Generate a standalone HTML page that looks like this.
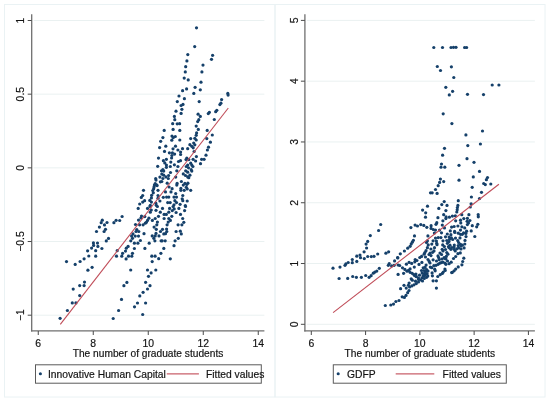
<!DOCTYPE html>
<html><head><meta charset="utf-8"><style>
html,body{margin:0;padding:0;background:#fff;}
body{width:550px;height:402px;overflow:hidden;}
svg{display:block;}
text{font-family:"Liberation Sans",Arial,sans-serif;fill:#141414;stroke:#141414;stroke-width:0.18px;}
.tl{font-size:10.4px;}
.tt{font-size:10.2px;}
.lg{font-size:10.3px;}
</style></head><body>
<svg width="550" height="402" viewBox="0 0 550 402">
<rect x="0" y="0" width="550" height="402" fill="#ffffff"/>
<rect x="4.5" y="4.5" width="270.5" height="392.5" fill="none" stroke="#eaf2f4" stroke-width="1"/>
<rect x="275" y="4.5" width="270" height="392.5" fill="none" stroke="#eaf2f4" stroke-width="1"/>
<line x1="33.70" y1="315.20" x2="264.40" y2="315.20" stroke="#eaf1f1" stroke-width="1"/>
<line x1="33.70" y1="241.52" x2="264.40" y2="241.52" stroke="#eaf1f1" stroke-width="1"/>
<line x1="33.70" y1="167.85" x2="264.40" y2="167.85" stroke="#eaf1f1" stroke-width="1"/>
<line x1="33.70" y1="94.17" x2="264.40" y2="94.17" stroke="#eaf1f1" stroke-width="1"/>
<line x1="33.70" y1="20.50" x2="264.40" y2="20.50" stroke="#eaf1f1" stroke-width="1"/>
<line x1="31.70" y1="14.3" x2="31.70" y2="331.5" stroke="#6f6f6f" stroke-width="1.3"/>
<line x1="31.05" y1="330.9" x2="264.40" y2="330.9" stroke="#6f6f6f" stroke-width="1.3"/>
<line x1="27.70" y1="315.20" x2="31.70" y2="315.20" stroke="#4a4a4a" stroke-width="1"/>
<text x="0" y="0" transform="translate(24.40,315.20) rotate(-90)" text-anchor="middle" class="tl">−1</text>
<line x1="27.70" y1="241.52" x2="31.70" y2="241.52" stroke="#4a4a4a" stroke-width="1"/>
<text x="0" y="0" transform="translate(24.40,241.52) rotate(-90)" text-anchor="middle" class="tl">−0.5</text>
<line x1="27.70" y1="167.85" x2="31.70" y2="167.85" stroke="#4a4a4a" stroke-width="1"/>
<text x="0" y="0" transform="translate(24.40,167.85) rotate(-90)" text-anchor="middle" class="tl">0</text>
<line x1="27.70" y1="94.17" x2="31.70" y2="94.17" stroke="#4a4a4a" stroke-width="1"/>
<text x="0" y="0" transform="translate(24.40,94.17) rotate(-90)" text-anchor="middle" class="tl">0.5</text>
<line x1="27.70" y1="20.50" x2="31.70" y2="20.50" stroke="#4a4a4a" stroke-width="1"/>
<text x="0" y="0" transform="translate(24.40,20.50) rotate(-90)" text-anchor="middle" class="tl">1</text>
<line x1="38.25" y1="331" x2="38.25" y2="335" stroke="#4a4a4a" stroke-width="1"/>
<text x="38.25" y="346.8" text-anchor="middle" class="tl">6</text>
<line x1="93.25" y1="331" x2="93.25" y2="335" stroke="#4a4a4a" stroke-width="1"/>
<text x="93.25" y="346.8" text-anchor="middle" class="tl">8</text>
<line x1="148.25" y1="331" x2="148.25" y2="335" stroke="#4a4a4a" stroke-width="1"/>
<text x="148.25" y="346.8" text-anchor="middle" class="tl">10</text>
<line x1="203.25" y1="331" x2="203.25" y2="335" stroke="#4a4a4a" stroke-width="1"/>
<text x="203.25" y="346.8" text-anchor="middle" class="tl">12</text>
<line x1="258.25" y1="331" x2="258.25" y2="335" stroke="#4a4a4a" stroke-width="1"/>
<text x="258.25" y="346.8" text-anchor="middle" class="tl">14</text>
<text x="148.05" y="356.9" text-anchor="middle" class="tt">The number of graduate students</text>
<g fill="#15406a">
<circle cx="196.5" cy="27.8" r="1.6"/>
<circle cx="194.7" cy="46.6" r="1.6"/>
<circle cx="187.8" cy="54.6" r="1.6"/>
<circle cx="212.6" cy="55.3" r="1.6"/>
<circle cx="211.5" cy="59.3" r="1.6"/>
<circle cx="186.9" cy="60.9" r="1.6"/>
<circle cx="203.0" cy="65.1" r="1.6"/>
<circle cx="185.7" cy="66.7" r="1.6"/>
<circle cx="185.3" cy="71.9" r="1.6"/>
<circle cx="201.9" cy="71.9" r="1.6"/>
<circle cx="184.2" cy="78.1" r="1.6"/>
<circle cx="188.2" cy="79.9" r="1.6"/>
<circle cx="201.0" cy="82.2" r="1.6"/>
<circle cx="195.1" cy="87.3" r="1.6"/>
<circle cx="186.6" cy="88.9" r="1.6"/>
<circle cx="182.6" cy="90.7" r="1.6"/>
<circle cx="200.3" cy="89.8" r="1.6"/>
<circle cx="193.8" cy="93.4" r="1.6"/>
<circle cx="227.8" cy="93.4" r="1.6"/>
<circle cx="228.1" cy="95.1" r="1.6"/>
<circle cx="179.0" cy="96.0" r="1.6"/>
<circle cx="184.4" cy="98.7" r="1.6"/>
<circle cx="221.6" cy="99.6" r="1.6"/>
<circle cx="177.3" cy="101.6" r="1.6"/>
<circle cx="176.0" cy="111.2" r="1.6"/>
<circle cx="174.4" cy="116.4" r="1.6"/>
<circle cx="174.8" cy="119.7" r="1.6"/>
<circle cx="172.7" cy="123.7" r="1.6"/>
<circle cx="179.6" cy="123.7" r="1.6"/>
<circle cx="164.2" cy="130.4" r="1.6"/>
<circle cx="173.1" cy="129.4" r="1.6"/>
<circle cx="179.8" cy="130.4" r="1.6"/>
<circle cx="162.9" cy="137.6" r="1.6"/>
<circle cx="172.0" cy="136.1" r="1.6"/>
<circle cx="175.3" cy="136.5" r="1.6"/>
<circle cx="173.3" cy="137.6" r="1.6"/>
<circle cx="160.7" cy="141.3" r="1.6"/>
<circle cx="171.8" cy="140.2" r="1.6"/>
<circle cx="179.8" cy="140.0" r="1.6"/>
<circle cx="199.2" cy="101.6" r="1.6"/>
<circle cx="220.9" cy="103.2" r="1.6"/>
<circle cx="219.9" cy="104.6" r="1.6"/>
<circle cx="183.0" cy="104.4" r="1.6"/>
<circle cx="181.1" cy="105.5" r="1.6"/>
<circle cx="181.9" cy="109.3" r="1.6"/>
<circle cx="181.1" cy="113.4" r="1.6"/>
<circle cx="216.8" cy="110.3" r="1.6"/>
<circle cx="215.7" cy="111.7" r="1.6"/>
<circle cx="209.4" cy="112.3" r="1.6"/>
<circle cx="208.3" cy="113.6" r="1.6"/>
<circle cx="198.1" cy="114.2" r="1.6"/>
<circle cx="200.3" cy="116.4" r="1.6"/>
<circle cx="198.8" cy="119.7" r="1.6"/>
<circle cx="197.7" cy="121.6" r="1.6"/>
<circle cx="214.3" cy="119.5" r="1.6"/>
<circle cx="196.2" cy="126.1" r="1.6"/>
<circle cx="198.3" cy="129.4" r="1.6"/>
<circle cx="207.2" cy="130.4" r="1.6"/>
<circle cx="196.6" cy="132.9" r="1.6"/>
<circle cx="196.2" cy="135.3" r="1.6"/>
<circle cx="212.3" cy="135.0" r="1.6"/>
<circle cx="190.7" cy="138.6" r="1.6"/>
<circle cx="194.8" cy="138.3" r="1.6"/>
<circle cx="196.2" cy="140.0" r="1.6"/>
<circle cx="206.8" cy="138.6" r="1.6"/>
<circle cx="193.7" cy="143.0" r="1.6"/>
<circle cx="210.4" cy="142.2" r="1.6"/>
<circle cx="159.6" cy="147.6" r="1.6"/>
<circle cx="165.8" cy="146.2" r="1.6"/>
<circle cx="175.5" cy="146.2" r="1.6"/>
<circle cx="173.0" cy="148.8" r="1.6"/>
<circle cx="177.9" cy="150.0" r="1.6"/>
<circle cx="164.5" cy="151.4" r="1.6"/>
<circle cx="169.4" cy="152.8" r="1.6"/>
<circle cx="172.4" cy="152.8" r="1.6"/>
<circle cx="174.6" cy="154.1" r="1.6"/>
<circle cx="171.9" cy="155.5" r="1.6"/>
<circle cx="171.6" cy="158.0" r="1.6"/>
<circle cx="158.5" cy="158.1" r="1.6"/>
<circle cx="166.4" cy="159.3" r="1.6"/>
<circle cx="163.4" cy="160.7" r="1.6"/>
<circle cx="164.8" cy="162.9" r="1.6"/>
<circle cx="170.8" cy="162.1" r="1.6"/>
<circle cx="178.5" cy="161.5" r="1.6"/>
<circle cx="174.4" cy="164.8" r="1.6"/>
<circle cx="157.7" cy="166.3" r="1.6"/>
<circle cx="166.4" cy="167.3" r="1.6"/>
<circle cx="170.3" cy="166.5" r="1.6"/>
<circle cx="177.9" cy="166.5" r="1.6"/>
<circle cx="166.4" cy="165.0" r="1.6"/>
<circle cx="162.9" cy="169.5" r="1.6"/>
<circle cx="161.5" cy="170.8" r="1.6"/>
<circle cx="163.7" cy="171.1" r="1.6"/>
<circle cx="170.5" cy="172.5" r="1.6"/>
<circle cx="176.8" cy="170.8" r="1.6"/>
<circle cx="161.8" cy="174.1" r="1.6"/>
<circle cx="163.7" cy="175.2" r="1.6"/>
<circle cx="168.6" cy="175.5" r="1.6"/>
<circle cx="165.9" cy="176.9" r="1.6"/>
<circle cx="159.9" cy="177.1" r="1.6"/>
<circle cx="155.7" cy="178.5" r="1.6"/>
<circle cx="162.9" cy="178.5" r="1.6"/>
<circle cx="168.3" cy="178.5" r="1.6"/>
<circle cx="175.7" cy="177.1" r="1.6"/>
<circle cx="156.0" cy="180.1" r="1.6"/>
<circle cx="160.4" cy="181.8" r="1.6"/>
<circle cx="161.8" cy="181.5" r="1.6"/>
<circle cx="167.2" cy="183.2" r="1.6"/>
<circle cx="155.2" cy="183.7" r="1.6"/>
<circle cx="154.4" cy="185.1" r="1.6"/>
<circle cx="156.6" cy="184.8" r="1.6"/>
<circle cx="177.1" cy="183.4" r="1.6"/>
<circle cx="176.8" cy="185.1" r="1.6"/>
<circle cx="189.9" cy="144.7" r="1.6"/>
<circle cx="194.8" cy="144.8" r="1.6"/>
<circle cx="191.8" cy="146.3" r="1.6"/>
<circle cx="193.2" cy="147.8" r="1.6"/>
<circle cx="182.5" cy="148.7" r="1.6"/>
<circle cx="187.7" cy="148.7" r="1.6"/>
<circle cx="180.6" cy="152.0" r="1.6"/>
<circle cx="180.6" cy="154.5" r="1.6"/>
<circle cx="194.1" cy="151.5" r="1.6"/>
<circle cx="208.5" cy="147.2" r="1.6"/>
<circle cx="207.4" cy="150.0" r="1.6"/>
<circle cx="206.0" cy="155.2" r="1.6"/>
<circle cx="196.4" cy="156.6" r="1.6"/>
<circle cx="186.8" cy="158.0" r="1.6"/>
<circle cx="186.0" cy="159.6" r="1.6"/>
<circle cx="188.8" cy="159.6" r="1.6"/>
<circle cx="193.1" cy="159.3" r="1.6"/>
<circle cx="195.6" cy="161.0" r="1.6"/>
<circle cx="201.6" cy="159.3" r="1.6"/>
<circle cx="204.1" cy="159.3" r="1.6"/>
<circle cx="180.5" cy="160.7" r="1.6"/>
<circle cx="200.5" cy="163.7" r="1.6"/>
<circle cx="190.7" cy="163.2" r="1.6"/>
<circle cx="187.7" cy="165.1" r="1.6"/>
<circle cx="191.8" cy="165.1" r="1.6"/>
<circle cx="186.3" cy="166.5" r="1.6"/>
<circle cx="188.5" cy="167.8" r="1.6"/>
<circle cx="192.9" cy="166.5" r="1.6"/>
<circle cx="191.2" cy="169.7" r="1.6"/>
<circle cx="185.7" cy="170.8" r="1.6"/>
<circle cx="191.8" cy="171.1" r="1.6"/>
<circle cx="187.7" cy="172.2" r="1.6"/>
<circle cx="183.3" cy="173.9" r="1.6"/>
<circle cx="185.5" cy="175.5" r="1.6"/>
<circle cx="189.9" cy="175.2" r="1.6"/>
<circle cx="187.7" cy="176.9" r="1.6"/>
<circle cx="188.8" cy="177.7" r="1.6"/>
<circle cx="181.4" cy="181.5" r="1.6"/>
<circle cx="184.9" cy="183.4" r="1.6"/>
<circle cx="187.9" cy="183.2" r="1.6"/>
<circle cx="183.3" cy="185.1" r="1.6"/>
<circle cx="186.8" cy="184.5" r="1.6"/>
<circle cx="169.1" cy="187.0" r="1.6"/>
<circle cx="172.1" cy="188.7" r="1.6"/>
<circle cx="180.9" cy="188.4" r="1.6"/>
<circle cx="180.9" cy="190.3" r="1.6"/>
<circle cx="184.2" cy="190.3" r="1.6"/>
<circle cx="186.3" cy="187.3" r="1.6"/>
<circle cx="187.2" cy="188.9" r="1.6"/>
<circle cx="190.7" cy="190.3" r="1.6"/>
<circle cx="165.5" cy="191.9" r="1.6"/>
<circle cx="171.0" cy="191.9" r="1.6"/>
<circle cx="175.7" cy="193.6" r="1.6"/>
<circle cx="182.8" cy="195.5" r="1.6"/>
<circle cx="166.6" cy="197.1" r="1.6"/>
<circle cx="168.8" cy="197.1" r="1.6"/>
<circle cx="174.0" cy="197.1" r="1.6"/>
<circle cx="176.5" cy="197.1" r="1.6"/>
<circle cx="182.2" cy="198.8" r="1.6"/>
<circle cx="182.8" cy="200.7" r="1.6"/>
<circle cx="187.2" cy="201.0" r="1.6"/>
<circle cx="174.9" cy="200.7" r="1.6"/>
<circle cx="167.7" cy="202.6" r="1.6"/>
<circle cx="170.2" cy="202.6" r="1.6"/>
<circle cx="176.5" cy="202.6" r="1.6"/>
<circle cx="174.0" cy="204.8" r="1.6"/>
<circle cx="180.1" cy="204.3" r="1.6"/>
<circle cx="185.3" cy="205.6" r="1.6"/>
<circle cx="157.1" cy="185.6" r="1.6"/>
<circle cx="154.1" cy="186.8" r="1.6"/>
<circle cx="153.7" cy="188.7" r="1.6"/>
<circle cx="143.5" cy="190.3" r="1.6"/>
<circle cx="152.8" cy="190.6" r="1.6"/>
<circle cx="158.0" cy="190.3" r="1.6"/>
<circle cx="153.3" cy="192.8" r="1.6"/>
<circle cx="142.7" cy="195.5" r="1.6"/>
<circle cx="151.6" cy="195.3" r="1.6"/>
<circle cx="158.0" cy="195.5" r="1.6"/>
<circle cx="141.3" cy="197.4" r="1.6"/>
<circle cx="163.3" cy="197.3" r="1.6"/>
<circle cx="151.4" cy="197.9" r="1.6"/>
<circle cx="158.0" cy="198.2" r="1.6"/>
<circle cx="144.6" cy="200.7" r="1.6"/>
<circle cx="142.7" cy="202.1" r="1.6"/>
<circle cx="149.8" cy="200.4" r="1.6"/>
<circle cx="151.4" cy="202.1" r="1.6"/>
<circle cx="159.9" cy="201.0" r="1.6"/>
<circle cx="139.7" cy="204.0" r="1.6"/>
<circle cx="155.8" cy="203.2" r="1.6"/>
<circle cx="150.3" cy="205.3" r="1.6"/>
<circle cx="156.3" cy="205.3" r="1.6"/>
<circle cx="173.1" cy="206.5" r="1.6"/>
<circle cx="174.2" cy="208.9" r="1.6"/>
<circle cx="172.3" cy="210.6" r="1.6"/>
<circle cx="162.5" cy="208.4" r="1.6"/>
<circle cx="169.6" cy="208.4" r="1.6"/>
<circle cx="178.9" cy="208.4" r="1.6"/>
<circle cx="185.5" cy="206.5" r="1.6"/>
<circle cx="184.6" cy="210.6" r="1.6"/>
<circle cx="160.3" cy="212.2" r="1.6"/>
<circle cx="168.8" cy="212.2" r="1.6"/>
<circle cx="176.1" cy="212.5" r="1.6"/>
<circle cx="164.1" cy="214.4" r="1.6"/>
<circle cx="166.3" cy="214.4" r="1.6"/>
<circle cx="180.5" cy="214.4" r="1.6"/>
<circle cx="171.8" cy="216.3" r="1.6"/>
<circle cx="164.1" cy="218.5" r="1.6"/>
<circle cx="168.8" cy="218.5" r="1.6"/>
<circle cx="182.7" cy="218.5" r="1.6"/>
<circle cx="170.4" cy="220.4" r="1.6"/>
<circle cx="168.2" cy="222.1" r="1.6"/>
<circle cx="183.8" cy="222.3" r="1.6"/>
<circle cx="167.1" cy="224.8" r="1.6"/>
<circle cx="178.1" cy="224.8" r="1.6"/>
<circle cx="181.9" cy="224.8" r="1.6"/>
<circle cx="138.2" cy="208.4" r="1.6"/>
<circle cx="147.5" cy="208.4" r="1.6"/>
<circle cx="150.0" cy="206.5" r="1.6"/>
<circle cx="157.4" cy="206.5" r="1.6"/>
<circle cx="151.3" cy="210.0" r="1.6"/>
<circle cx="150.3" cy="212.2" r="1.6"/>
<circle cx="156.0" cy="210.3" r="1.6"/>
<circle cx="141.5" cy="216.0" r="1.6"/>
<circle cx="144.8" cy="216.6" r="1.6"/>
<circle cx="140.9" cy="218.0" r="1.6"/>
<circle cx="158.5" cy="216.3" r="1.6"/>
<circle cx="148.9" cy="218.2" r="1.6"/>
<circle cx="155.2" cy="218.5" r="1.6"/>
<circle cx="138.5" cy="220.1" r="1.6"/>
<circle cx="147.5" cy="220.4" r="1.6"/>
<circle cx="152.4" cy="220.4" r="1.6"/>
<circle cx="146.4" cy="222.3" r="1.6"/>
<circle cx="157.4" cy="222.1" r="1.6"/>
<circle cx="135.5" cy="224.5" r="1.6"/>
<circle cx="139.6" cy="224.8" r="1.6"/>
<circle cx="143.1" cy="224.8" r="1.6"/>
<circle cx="145.3" cy="223.2" r="1.6"/>
<circle cx="156.8" cy="224.8" r="1.6"/>
<circle cx="162.5" cy="229.3" r="1.6"/>
<circle cx="166.6" cy="229.0" r="1.6"/>
<circle cx="166.8" cy="231.5" r="1.6"/>
<circle cx="160.5" cy="231.5" r="1.6"/>
<circle cx="163.8" cy="233.9" r="1.6"/>
<circle cx="165.5" cy="233.7" r="1.6"/>
<circle cx="176.1" cy="231.5" r="1.6"/>
<circle cx="180.3" cy="231.2" r="1.6"/>
<circle cx="181.3" cy="233.9" r="1.6"/>
<circle cx="178.3" cy="238.3" r="1.6"/>
<circle cx="175.1" cy="240.8" r="1.6"/>
<circle cx="161.1" cy="240.8" r="1.6"/>
<circle cx="162.2" cy="240.8" r="1.6"/>
<circle cx="165.2" cy="240.8" r="1.6"/>
<circle cx="174.0" cy="245.7" r="1.6"/>
<circle cx="154.1" cy="227.1" r="1.6"/>
<circle cx="156.3" cy="229.3" r="1.6"/>
<circle cx="136.8" cy="229.6" r="1.6"/>
<circle cx="136.0" cy="231.5" r="1.6"/>
<circle cx="138.8" cy="231.5" r="1.6"/>
<circle cx="144.0" cy="233.7" r="1.6"/>
<circle cx="133.0" cy="233.9" r="1.6"/>
<circle cx="156.0" cy="233.4" r="1.6"/>
<circle cx="131.6" cy="236.1" r="1.6"/>
<circle cx="135.2" cy="236.1" r="1.6"/>
<circle cx="138.5" cy="236.1" r="1.6"/>
<circle cx="152.2" cy="235.9" r="1.6"/>
<circle cx="155.2" cy="235.9" r="1.6"/>
<circle cx="159.0" cy="235.9" r="1.6"/>
<circle cx="132.5" cy="238.3" r="1.6"/>
<circle cx="153.8" cy="238.3" r="1.6"/>
<circle cx="130.8" cy="240.8" r="1.6"/>
<circle cx="140.4" cy="240.5" r="1.6"/>
<circle cx="154.9" cy="240.8" r="1.6"/>
<circle cx="134.4" cy="243.2" r="1.6"/>
<circle cx="137.9" cy="243.2" r="1.6"/>
<circle cx="149.2" cy="243.2" r="1.6"/>
<circle cx="134.4" cy="248.5" r="1.6"/>
<circle cx="144.9" cy="248.4" r="1.6"/>
<circle cx="163.8" cy="248.4" r="1.6"/>
<circle cx="132.5" cy="253.3" r="1.6"/>
<circle cx="131.8" cy="256.2" r="1.6"/>
<circle cx="151.8" cy="256.2" r="1.6"/>
<circle cx="155.1" cy="256.2" r="1.6"/>
<circle cx="160.9" cy="253.3" r="1.6"/>
<circle cx="158.7" cy="258.7" r="1.6"/>
<circle cx="170.3" cy="258.8" r="1.6"/>
<circle cx="152.2" cy="261.6" r="1.6"/>
<circle cx="130.7" cy="270.0" r="1.6"/>
<circle cx="147.5" cy="270.0" r="1.6"/>
<circle cx="155.8" cy="270.0" r="1.6"/>
<circle cx="151.1" cy="272.9" r="1.6"/>
<circle cx="148.5" cy="276.3" r="1.6"/>
<circle cx="145.6" cy="282.3" r="1.6"/>
<circle cx="150.0" cy="285.7" r="1.6"/>
<circle cx="147.5" cy="289.0" r="1.6"/>
<circle cx="143.1" cy="292.3" r="1.6"/>
<circle cx="139.8" cy="295.9" r="1.6"/>
<circle cx="121.5" cy="299.4" r="1.6"/>
<circle cx="118.6" cy="310.5" r="1.6"/>
<circle cx="113.2" cy="318.5" r="1.6"/>
<circle cx="137.5" cy="303.0" r="1.6"/>
<circle cx="145.6" cy="303.0" r="1.6"/>
<circle cx="134.5" cy="306.8" r="1.6"/>
<circle cx="142.7" cy="314.5" r="1.6"/>
<circle cx="97.9" cy="246.4" r="1.6"/>
<circle cx="101.9" cy="248.5" r="1.6"/>
<circle cx="95.7" cy="250.7" r="1.6"/>
<circle cx="95.7" cy="256.2" r="1.6"/>
<circle cx="117.2" cy="250.7" r="1.6"/>
<circle cx="116.5" cy="256.2" r="1.6"/>
<circle cx="122.6" cy="253.3" r="1.6"/>
<circle cx="121.8" cy="256.2" r="1.6"/>
<circle cx="126.3" cy="248.2" r="1.6"/>
<circle cx="125.5" cy="251.1" r="1.6"/>
<circle cx="128.1" cy="246.4" r="1.6"/>
<circle cx="128.5" cy="256.2" r="1.6"/>
<circle cx="126.1" cy="258.9" r="1.6"/>
<circle cx="102.3" cy="220.2" r="1.6"/>
<circle cx="101.2" cy="222.7" r="1.6"/>
<circle cx="107.0" cy="222.5" r="1.6"/>
<circle cx="104.5" cy="224.9" r="1.6"/>
<circle cx="116.1" cy="220.3" r="1.6"/>
<circle cx="119.7" cy="220.5" r="1.6"/>
<circle cx="113.9" cy="222.7" r="1.6"/>
<circle cx="99.4" cy="227.1" r="1.6"/>
<circle cx="105.5" cy="229.3" r="1.6"/>
<circle cx="104.1" cy="231.5" r="1.6"/>
<circle cx="96.5" cy="231.5" r="1.6"/>
<circle cx="108.5" cy="238.4" r="1.6"/>
<circle cx="106.3" cy="240.9" r="1.6"/>
<circle cx="97.5" cy="243.1" r="1.6"/>
<circle cx="122.1" cy="216.5" r="1.6"/>
<circle cx="93.4" cy="242.9" r="1.6"/>
<circle cx="93.6" cy="245.4" r="1.6"/>
<circle cx="91.6" cy="248.1" r="1.6"/>
<circle cx="87.6" cy="250.8" r="1.6"/>
<circle cx="88.8" cy="256.0" r="1.6"/>
<circle cx="84.1" cy="258.8" r="1.6"/>
<circle cx="80.1" cy="261.5" r="1.6"/>
<circle cx="66.5" cy="261.6" r="1.6"/>
<circle cx="75.2" cy="264.4" r="1.6"/>
<circle cx="92.1" cy="267.3" r="1.6"/>
<circle cx="87.9" cy="270.2" r="1.6"/>
<circle cx="84.5" cy="282.1" r="1.6"/>
<circle cx="84.1" cy="285.6" r="1.6"/>
<circle cx="79.7" cy="285.6" r="1.6"/>
<circle cx="73.2" cy="289.1" r="1.6"/>
<circle cx="79.7" cy="295.6" r="1.6"/>
<circle cx="72.3" cy="302.9" r="1.6"/>
<circle cx="75.9" cy="302.9" r="1.6"/>
<circle cx="67.4" cy="310.5" r="1.6"/>
<circle cx="60.1" cy="318.3" r="1.6"/>
<circle cx="126.9" cy="282.4" r="1.6"/>
<circle cx="123.9" cy="285.7" r="1.6"/>
<circle cx="177.2" cy="123.8" r="1.6"/>
</g>
<line x1="60.3" y1="324.3" x2="228.3" y2="108.0" stroke="#c04c58" stroke-width="1.1"/>
<rect x="35.5" y="364.8" width="225.8" height="18.4" fill="none" stroke="#5a5a5a" stroke-width="1"/>
<circle cx="40.4" cy="373.7" r="1.55" fill="#15406a"/>
<text x="47.9" y="377.6" class="lg">Innovative Human Capital</text>
<line x1="166.8" y1="373.8" x2="198.9" y2="373.8" stroke="#c9606b" stroke-width="1.2"/>
<text x="206.0" y="377.6" class="lg">Fitted values</text>
<line x1="306.90" y1="324.30" x2="534.90" y2="324.30" stroke="#eaf1f1" stroke-width="1"/>
<line x1="306.90" y1="263.52" x2="534.90" y2="263.52" stroke="#eaf1f1" stroke-width="1"/>
<line x1="306.90" y1="202.74" x2="534.90" y2="202.74" stroke="#eaf1f1" stroke-width="1"/>
<line x1="306.90" y1="141.96" x2="534.90" y2="141.96" stroke="#eaf1f1" stroke-width="1"/>
<line x1="306.90" y1="81.18" x2="534.90" y2="81.18" stroke="#eaf1f1" stroke-width="1"/>
<line x1="306.90" y1="20.40" x2="534.90" y2="20.40" stroke="#eaf1f1" stroke-width="1"/>
<line x1="304.90" y1="14.3" x2="304.90" y2="331.5" stroke="#6f6f6f" stroke-width="1.3"/>
<line x1="304.25" y1="330.9" x2="534.90" y2="330.9" stroke="#6f6f6f" stroke-width="1.3"/>
<line x1="300.90" y1="324.30" x2="304.90" y2="324.30" stroke="#4a4a4a" stroke-width="1"/>
<text x="0" y="0" transform="translate(297.60,324.30) rotate(-90)" text-anchor="middle" class="tl">0</text>
<line x1="300.90" y1="263.52" x2="304.90" y2="263.52" stroke="#4a4a4a" stroke-width="1"/>
<text x="0" y="0" transform="translate(297.60,263.52) rotate(-90)" text-anchor="middle" class="tl">1</text>
<line x1="300.90" y1="202.74" x2="304.90" y2="202.74" stroke="#4a4a4a" stroke-width="1"/>
<text x="0" y="0" transform="translate(297.60,202.74) rotate(-90)" text-anchor="middle" class="tl">2</text>
<line x1="300.90" y1="141.96" x2="304.90" y2="141.96" stroke="#4a4a4a" stroke-width="1"/>
<text x="0" y="0" transform="translate(297.60,141.96) rotate(-90)" text-anchor="middle" class="tl">3</text>
<line x1="300.90" y1="81.18" x2="304.90" y2="81.18" stroke="#4a4a4a" stroke-width="1"/>
<text x="0" y="0" transform="translate(297.60,81.18) rotate(-90)" text-anchor="middle" class="tl">4</text>
<line x1="300.90" y1="20.40" x2="304.90" y2="20.40" stroke="#4a4a4a" stroke-width="1"/>
<text x="0" y="0" transform="translate(297.60,20.40) rotate(-90)" text-anchor="middle" class="tl">5</text>
<line x1="311.30" y1="331" x2="311.30" y2="335" stroke="#4a4a4a" stroke-width="1"/>
<text x="311.30" y="346.8" text-anchor="middle" class="tl">6</text>
<line x1="365.58" y1="331" x2="365.58" y2="335" stroke="#4a4a4a" stroke-width="1"/>
<text x="365.58" y="346.8" text-anchor="middle" class="tl">8</text>
<line x1="419.86" y1="331" x2="419.86" y2="335" stroke="#4a4a4a" stroke-width="1"/>
<text x="419.86" y="346.8" text-anchor="middle" class="tl">10</text>
<line x1="474.14" y1="331" x2="474.14" y2="335" stroke="#4a4a4a" stroke-width="1"/>
<text x="474.14" y="346.8" text-anchor="middle" class="tl">12</text>
<line x1="528.42" y1="331" x2="528.42" y2="335" stroke="#4a4a4a" stroke-width="1"/>
<text x="528.42" y="346.8" text-anchor="middle" class="tl">14</text>
<text x="419.90" y="356.9" text-anchor="middle" class="tt">The number of graduate students</text>
<g fill="#15406a">
<circle cx="433.8" cy="47.5" r="1.6"/>
<circle cx="442.5" cy="47.5" r="1.6"/>
<circle cx="451.0" cy="47.5" r="1.6"/>
<circle cx="453.5" cy="47.3" r="1.6"/>
<circle cx="456.0" cy="47.3" r="1.6"/>
<circle cx="464.6" cy="47.5" r="1.6"/>
<circle cx="466.6" cy="47.5" r="1.6"/>
<circle cx="437.3" cy="66.5" r="1.6"/>
<circle cx="440.5" cy="70.5" r="1.6"/>
<circle cx="451.4" cy="66.8" r="1.6"/>
<circle cx="453.8" cy="77.5" r="1.6"/>
<circle cx="445.8" cy="87.3" r="1.6"/>
<circle cx="452.6" cy="91.3" r="1.6"/>
<circle cx="449.3" cy="94.9" r="1.6"/>
<circle cx="467.5" cy="94.3" r="1.6"/>
<circle cx="483.5" cy="94.6" r="1.6"/>
<circle cx="492.2" cy="85.0" r="1.6"/>
<circle cx="498.9" cy="85.0" r="1.6"/>
<circle cx="443.2" cy="113.8" r="1.6"/>
<circle cx="451.9" cy="123.6" r="1.6"/>
<circle cx="482.5" cy="131.0" r="1.6"/>
<circle cx="465.9" cy="134.9" r="1.6"/>
<circle cx="467.8" cy="145.6" r="1.6"/>
<circle cx="480.4" cy="144.0" r="1.6"/>
<circle cx="444.5" cy="148.3" r="1.6"/>
<circle cx="442.6" cy="155.2" r="1.6"/>
<circle cx="467.0" cy="158.7" r="1.6"/>
<circle cx="474.0" cy="162.3" r="1.6"/>
<circle cx="459.0" cy="165.3" r="1.6"/>
<circle cx="441.5" cy="164.0" r="1.6"/>
<circle cx="441.0" cy="167.2" r="1.6"/>
<circle cx="444.8" cy="167.2" r="1.6"/>
<circle cx="479.5" cy="171.4" r="1.6"/>
<circle cx="440.4" cy="179.1" r="1.6"/>
<circle cx="439.6" cy="182.4" r="1.6"/>
<circle cx="443.7" cy="181.6" r="1.6"/>
<circle cx="459.0" cy="180.2" r="1.6"/>
<circle cx="473.3" cy="176.9" r="1.6"/>
<circle cx="487.5" cy="177.5" r="1.6"/>
<circle cx="486.4" cy="179.7" r="1.6"/>
<circle cx="483.7" cy="183.5" r="1.6"/>
<circle cx="485.3" cy="184.6" r="1.6"/>
<circle cx="438.2" cy="185.7" r="1.6"/>
<circle cx="472.2" cy="187.3" r="1.6"/>
<circle cx="435.5" cy="189.5" r="1.6"/>
<circle cx="432.2" cy="192.8" r="1.6"/>
<circle cx="430.5" cy="192.8" r="1.6"/>
<circle cx="437.1" cy="193.4" r="1.6"/>
<circle cx="481.5" cy="192.3" r="1.6"/>
<circle cx="471.4" cy="197.0" r="1.6"/>
<circle cx="479.5" cy="198.6" r="1.6"/>
<circle cx="458.3" cy="200.7" r="1.6"/>
<circle cx="444.2" cy="201.6" r="1.6"/>
<circle cx="441.8" cy="204.6" r="1.6"/>
<circle cx="447.0" cy="205.4" r="1.6"/>
<circle cx="471.1" cy="203.8" r="1.6"/>
<circle cx="470.3" cy="207.0" r="1.6"/>
<circle cx="457.9" cy="205.4" r="1.6"/>
<circle cx="457.4" cy="207.6" r="1.6"/>
<circle cx="457.2" cy="209.8" r="1.6"/>
<circle cx="456.8" cy="212.0" r="1.6"/>
<circle cx="438.8" cy="208.4" r="1.6"/>
<circle cx="445.9" cy="210.6" r="1.6"/>
<circle cx="443.7" cy="214.7" r="1.6"/>
<circle cx="461.8" cy="214.7" r="1.6"/>
<circle cx="468.9" cy="214.7" r="1.6"/>
<circle cx="478.2" cy="214.7" r="1.6"/>
<circle cx="490.8" cy="184.0" r="1.6"/>
<circle cx="478.3" cy="216.8" r="1.6"/>
<circle cx="463.8" cy="218.6" r="1.6"/>
<circle cx="467.4" cy="218.3" r="1.6"/>
<circle cx="469.9" cy="220.5" r="1.6"/>
<circle cx="467.1" cy="221.3" r="1.6"/>
<circle cx="468.5" cy="222.9" r="1.6"/>
<circle cx="467.4" cy="224.6" r="1.6"/>
<circle cx="460.5" cy="220.2" r="1.6"/>
<circle cx="460.8" cy="222.9" r="1.6"/>
<circle cx="472.3" cy="225.7" r="1.6"/>
<circle cx="477.8" cy="224.3" r="1.6"/>
<circle cx="476.7" cy="226.8" r="1.6"/>
<circle cx="461.9" cy="226.8" r="1.6"/>
<circle cx="464.7" cy="227.9" r="1.6"/>
<circle cx="460.5" cy="230.1" r="1.6"/>
<circle cx="466.6" cy="231.2" r="1.6"/>
<circle cx="471.2" cy="230.9" r="1.6"/>
<circle cx="437.9" cy="217.7" r="1.6"/>
<circle cx="446.1" cy="216.9" r="1.6"/>
<circle cx="445.9" cy="218.6" r="1.6"/>
<circle cx="449.4" cy="217.2" r="1.6"/>
<circle cx="452.4" cy="216.1" r="1.6"/>
<circle cx="455.3" cy="215.8" r="1.6"/>
<circle cx="442.9" cy="220.8" r="1.6"/>
<circle cx="455.7" cy="220.8" r="1.6"/>
<circle cx="436.8" cy="222.7" r="1.6"/>
<circle cx="436.0" cy="224.3" r="1.6"/>
<circle cx="442.3" cy="225.1" r="1.6"/>
<circle cx="444.5" cy="227.9" r="1.6"/>
<circle cx="451.6" cy="227.1" r="1.6"/>
<circle cx="454.1" cy="226.5" r="1.6"/>
<circle cx="457.9" cy="226.0" r="1.6"/>
<circle cx="431.1" cy="225.7" r="1.6"/>
<circle cx="431.1" cy="228.4" r="1.6"/>
<circle cx="433.3" cy="229.5" r="1.6"/>
<circle cx="435.5" cy="230.1" r="1.6"/>
<circle cx="439.6" cy="230.1" r="1.6"/>
<circle cx="450.3" cy="230.9" r="1.6"/>
<circle cx="454.6" cy="231.4" r="1.6"/>
<circle cx="441.5" cy="232.8" r="1.6"/>
<circle cx="434.4" cy="233.1" r="1.6"/>
<circle cx="474.8" cy="236.5" r="1.6"/>
<circle cx="460.3" cy="252.9" r="1.6"/>
<circle cx="435.5" cy="238.1" r="1.6"/>
<circle cx="438.2" cy="237.6" r="1.6"/>
<circle cx="440.9" cy="237.6" r="1.6"/>
<circle cx="455.2" cy="251.0" r="1.6"/>
<circle cx="457.9" cy="253.7" r="1.6"/>
<circle cx="455.7" cy="256.5" r="1.6"/>
<circle cx="453.5" cy="258.5" r="1.6"/>
<circle cx="458.2" cy="266.9" r="1.6"/>
<circle cx="455.7" cy="269.1" r="1.6"/>
<circle cx="454.1" cy="270.8" r="1.6"/>
<circle cx="452.2" cy="272.4" r="1.6"/>
<circle cx="463.8" cy="258.2" r="1.6"/>
<circle cx="462.7" cy="261.5" r="1.6"/>
<circle cx="461.9" cy="264.8" r="1.6"/>
<circle cx="425.7" cy="212.8" r="1.6"/>
<circle cx="425.5" cy="217.2" r="1.6"/>
<circle cx="410.9" cy="227.6" r="1.6"/>
<circle cx="415.1" cy="225.1" r="1.6"/>
<circle cx="417.5" cy="226.0" r="1.6"/>
<circle cx="420.8" cy="224.6" r="1.6"/>
<circle cx="423.8" cy="225.4" r="1.6"/>
<circle cx="426.8" cy="227.3" r="1.6"/>
<circle cx="427.5" cy="206.2" r="1.6"/>
<circle cx="422.6" cy="210.1" r="1.6"/>
<circle cx="414.5" cy="235.9" r="1.6"/>
<circle cx="427.9" cy="235.9" r="1.6"/>
<circle cx="413.4" cy="240.3" r="1.6"/>
<circle cx="412.3" cy="242.2" r="1.6"/>
<circle cx="411.2" cy="244.1" r="1.6"/>
<circle cx="410.1" cy="246.3" r="1.6"/>
<circle cx="407.7" cy="248.2" r="1.6"/>
<circle cx="409.0" cy="290.5" r="1.6"/>
<circle cx="407.7" cy="292.7" r="1.6"/>
<circle cx="406.0" cy="295.4" r="1.6"/>
<circle cx="402.2" cy="296.8" r="1.6"/>
<circle cx="371.3" cy="256.6" r="1.6"/>
<circle cx="374.0" cy="256.3" r="1.6"/>
<circle cx="394.6" cy="260.9" r="1.6"/>
<circle cx="389.2" cy="263.7" r="1.6"/>
<circle cx="388.3" cy="265.3" r="1.6"/>
<circle cx="391.6" cy="265.9" r="1.6"/>
<circle cx="394.1" cy="265.3" r="1.6"/>
<circle cx="379.3" cy="268.3" r="1.6"/>
<circle cx="376.8" cy="271.1" r="1.6"/>
<circle cx="374.9" cy="272.1" r="1.6"/>
<circle cx="373.3" cy="273.2" r="1.6"/>
<circle cx="371.1" cy="275.7" r="1.6"/>
<circle cx="370.3" cy="235.6" r="1.6"/>
<circle cx="377.7" cy="254.0" r="1.6"/>
<circle cx="385.9" cy="253.2" r="1.6"/>
<circle cx="388.6" cy="251.8" r="1.6"/>
<circle cx="367.7" cy="241.4" r="1.6"/>
<circle cx="366.1" cy="244.1" r="1.6"/>
<circle cx="366.6" cy="248.0" r="1.6"/>
<circle cx="364.1" cy="251.8" r="1.6"/>
<circle cx="356.8" cy="256.2" r="1.6"/>
<circle cx="360.0" cy="255.0" r="1.6"/>
<circle cx="360.5" cy="257.7" r="1.6"/>
<circle cx="364.3" cy="258.6" r="1.6"/>
<circle cx="367.7" cy="256.5" r="1.6"/>
<circle cx="352.3" cy="259.5" r="1.6"/>
<circle cx="352.3" cy="262.7" r="1.6"/>
<circle cx="356.8" cy="261.4" r="1.6"/>
<circle cx="348.2" cy="262.5" r="1.6"/>
<circle cx="345.9" cy="263.8" r="1.6"/>
<circle cx="345.0" cy="265.3" r="1.6"/>
<circle cx="340.0" cy="267.1" r="1.6"/>
<circle cx="333.0" cy="268.2" r="1.6"/>
<circle cx="339.1" cy="278.5" r="1.6"/>
<circle cx="347.7" cy="278.4" r="1.6"/>
<circle cx="352.7" cy="276.5" r="1.6"/>
<circle cx="356.4" cy="277.3" r="1.6"/>
<circle cx="361.4" cy="277.3" r="1.6"/>
<circle cx="365.7" cy="275.5" r="1.6"/>
<circle cx="369.1" cy="277.3" r="1.6"/>
<circle cx="404.4" cy="297.4" r="1.6"/>
<circle cx="399.0" cy="300.5" r="1.6"/>
<circle cx="395.9" cy="301.5" r="1.6"/>
<circle cx="393.5" cy="304.1" r="1.6"/>
<circle cx="390.8" cy="305.0" r="1.6"/>
<circle cx="385.3" cy="305.5" r="1.6"/>
<circle cx="380.7" cy="224.5" r="1.6"/>
<circle cx="378.6" cy="230.5" r="1.6"/>
<circle cx="458.3" cy="233.2" r="1.6"/>
<circle cx="460.5" cy="234.3" r="1.6"/>
<circle cx="462.3" cy="234.3" r="1.6"/>
<circle cx="463.6" cy="232.9" r="1.6"/>
<circle cx="465.9" cy="233.4" r="1.6"/>
<circle cx="454.8" cy="232.4" r="1.6"/>
<circle cx="447.3" cy="234.0" r="1.6"/>
<circle cx="450.9" cy="234.7" r="1.6"/>
<circle cx="445.5" cy="236.8" r="1.6"/>
<circle cx="449.1" cy="237.0" r="1.6"/>
<circle cx="451.4" cy="237.9" r="1.6"/>
<circle cx="455.5" cy="238.1" r="1.6"/>
<circle cx="449.5" cy="239.3" r="1.6"/>
<circle cx="452.7" cy="239.5" r="1.6"/>
<circle cx="450.0" cy="245.2" r="1.6"/>
<circle cx="451.8" cy="247.5" r="1.6"/>
<circle cx="454.1" cy="247.0" r="1.6"/>
<circle cx="454.3" cy="245.0" r="1.6"/>
<circle cx="450.9" cy="249.3" r="1.6"/>
<circle cx="454.1" cy="249.3" r="1.6"/>
<circle cx="460.0" cy="237.9" r="1.6"/>
<circle cx="457.7" cy="240.6" r="1.6"/>
<circle cx="458.6" cy="242.5" r="1.6"/>
<circle cx="460.5" cy="244.3" r="1.6"/>
<circle cx="462.3" cy="245.2" r="1.6"/>
<circle cx="460.9" cy="246.1" r="1.6"/>
<circle cx="458.2" cy="245.6" r="1.6"/>
<circle cx="458.6" cy="247.9" r="1.6"/>
<circle cx="456.8" cy="248.8" r="1.6"/>
<circle cx="465.0" cy="240.4" r="1.6"/>
<circle cx="464.8" cy="244.0" r="1.6"/>
<circle cx="464.1" cy="247.9" r="1.6"/>
<circle cx="466.0" cy="236.6" r="1.6"/>
<circle cx="461.0" cy="249.0" r="1.6"/>
<circle cx="419.8" cy="257.5" r="1.6"/>
<circle cx="404.4" cy="251.0" r="1.6"/>
<circle cx="400.3" cy="253.8" r="1.6"/>
<circle cx="397.6" cy="257.6" r="1.6"/>
<circle cx="427.4" cy="240.8" r="1.6"/>
<circle cx="433.1" cy="240.8" r="1.6"/>
<circle cx="436.4" cy="241.1" r="1.6"/>
<circle cx="443.0" cy="240.8" r="1.6"/>
<circle cx="446.8" cy="240.5" r="1.6"/>
<circle cx="449.0" cy="241.6" r="1.6"/>
<circle cx="428.2" cy="244.9" r="1.6"/>
<circle cx="431.8" cy="244.1" r="1.6"/>
<circle cx="436.7" cy="243.3" r="1.6"/>
<circle cx="437.0" cy="244.7" r="1.6"/>
<circle cx="442.7" cy="244.9" r="1.6"/>
<circle cx="444.4" cy="246.6" r="1.6"/>
<circle cx="447.4" cy="243.3" r="1.6"/>
<circle cx="448.5" cy="246.6" r="1.6"/>
<circle cx="449.0" cy="247.7" r="1.6"/>
<circle cx="427.4" cy="247.7" r="1.6"/>
<circle cx="430.9" cy="249.0" r="1.6"/>
<circle cx="434.5" cy="247.7" r="1.6"/>
<circle cx="426.0" cy="250.7" r="1.6"/>
<circle cx="434.0" cy="250.9" r="1.6"/>
<circle cx="442.2" cy="249.3" r="1.6"/>
<circle cx="443.0" cy="250.9" r="1.6"/>
<circle cx="424.9" cy="252.6" r="1.6"/>
<circle cx="424.1" cy="254.2" r="1.6"/>
<circle cx="430.1" cy="253.1" r="1.6"/>
<circle cx="429.0" cy="254.5" r="1.6"/>
<circle cx="432.6" cy="252.3" r="1.6"/>
<circle cx="440.0" cy="253.1" r="1.6"/>
<circle cx="441.6" cy="254.5" r="1.6"/>
<circle cx="446.8" cy="252.6" r="1.6"/>
<circle cx="447.9" cy="254.2" r="1.6"/>
<circle cx="421.6" cy="256.4" r="1.6"/>
<circle cx="425.5" cy="257.0" r="1.6"/>
<circle cx="431.0" cy="255.6" r="1.6"/>
<circle cx="438.0" cy="255.9" r="1.6"/>
<circle cx="438.6" cy="257.5" r="1.6"/>
<circle cx="444.1" cy="257.5" r="1.6"/>
<circle cx="446.3" cy="256.4" r="1.6"/>
<circle cx="426.5" cy="242.5" r="1.6"/>
<circle cx="445.5" cy="249.5" r="1.6"/>
<circle cx="397.8" cy="257.9" r="1.6"/>
<circle cx="415.2" cy="259.6" r="1.6"/>
<circle cx="418.5" cy="282.0" r="1.6"/>
<circle cx="416.3" cy="283.6" r="1.6"/>
<circle cx="414.0" cy="284.8" r="1.6"/>
<circle cx="411.8" cy="285.9" r="1.6"/>
<circle cx="409.6" cy="287.0" r="1.6"/>
<circle cx="433.1" cy="280.8" r="1.6"/>
<circle cx="436.4" cy="280.8" r="1.6"/>
<circle cx="436.4" cy="288.1" r="1.6"/>
<circle cx="404.0" cy="285.3" r="1.6"/>
<circle cx="408.4" cy="285.3" r="1.6"/>
<circle cx="400.6" cy="288.7" r="1.6"/>
<circle cx="406.2" cy="288.1" r="1.6"/>
<circle cx="422.5" cy="281.0" r="1.6"/>
<circle cx="398.1" cy="265.0" r="1.6"/>
<circle cx="399.7" cy="265.5" r="1.6"/>
<circle cx="406.4" cy="264.2" r="1.6"/>
<circle cx="409.1" cy="262.4" r="1.6"/>
<circle cx="411.7" cy="263.4" r="1.6"/>
<circle cx="414.8" cy="261.8" r="1.6"/>
<circle cx="416.9" cy="260.5" r="1.6"/>
<circle cx="419.0" cy="264.4" r="1.6"/>
<circle cx="421.9" cy="262.4" r="1.6"/>
<circle cx="414.3" cy="267.1" r="1.6"/>
<circle cx="402.5" cy="267.8" r="1.6"/>
<circle cx="404.9" cy="269.4" r="1.6"/>
<circle cx="407.0" cy="271.2" r="1.6"/>
<circle cx="408.5" cy="270.4" r="1.6"/>
<circle cx="410.1" cy="268.9" r="1.6"/>
<circle cx="410.1" cy="272.3" r="1.6"/>
<circle cx="412.2" cy="273.3" r="1.6"/>
<circle cx="413.8" cy="274.6" r="1.6"/>
<circle cx="415.9" cy="274.1" r="1.6"/>
<circle cx="416.4" cy="276.7" r="1.6"/>
<circle cx="414.8" cy="275.7" r="1.6"/>
<circle cx="398.1" cy="274.4" r="1.6"/>
<circle cx="403.6" cy="273.3" r="1.6"/>
<circle cx="419.5" cy="275.2" r="1.6"/>
<circle cx="423.2" cy="267.8" r="1.6"/>
<circle cx="422.1" cy="273.1" r="1.6"/>
<circle cx="423.2" cy="275.7" r="1.6"/>
<circle cx="411.2" cy="278.8" r="1.6"/>
<circle cx="420.6" cy="279.9" r="1.6"/>
<circle cx="421.5" cy="270.5" r="1.6"/>
<circle cx="418.5" cy="278.0" r="1.6"/>
<circle cx="422.0" cy="277.8" r="1.6"/>
<circle cx="433.1" cy="259.8" r="1.6"/>
<circle cx="429.2" cy="261.4" r="1.6"/>
<circle cx="430.0" cy="263.0" r="1.6"/>
<circle cx="426.1" cy="265.1" r="1.6"/>
<circle cx="430.3" cy="267.1" r="1.6"/>
<circle cx="431.8" cy="267.7" r="1.6"/>
<circle cx="433.9" cy="265.6" r="1.6"/>
<circle cx="436.0" cy="265.3" r="1.6"/>
<circle cx="438.1" cy="264.3" r="1.6"/>
<circle cx="439.7" cy="263.2" r="1.6"/>
<circle cx="441.2" cy="262.7" r="1.6"/>
<circle cx="442.8" cy="262.2" r="1.6"/>
<circle cx="444.9" cy="263.0" r="1.6"/>
<circle cx="445.9" cy="264.3" r="1.6"/>
<circle cx="439.2" cy="259.6" r="1.6"/>
<circle cx="441.8" cy="259.0" r="1.6"/>
<circle cx="444.4" cy="258.3" r="1.6"/>
<circle cx="445.9" cy="259.0" r="1.6"/>
<circle cx="449.1" cy="263.7" r="1.6"/>
<circle cx="451.2" cy="262.2" r="1.6"/>
<circle cx="434.7" cy="269.2" r="1.6"/>
<circle cx="435.2" cy="270.8" r="1.6"/>
<circle cx="444.9" cy="269.0" r="1.6"/>
<circle cx="445.2" cy="270.5" r="1.6"/>
<circle cx="443.3" cy="272.1" r="1.6"/>
<circle cx="442.3" cy="273.4" r="1.6"/>
<circle cx="440.2" cy="274.7" r="1.6"/>
<circle cx="437.8" cy="276.5" r="1.6"/>
<circle cx="432.1" cy="272.9" r="1.6"/>
<circle cx="432.4" cy="275.8" r="1.6"/>
<circle cx="425.0" cy="267.4" r="1.6"/>
<circle cx="426.6" cy="269.5" r="1.6"/>
<circle cx="425.6" cy="271.6" r="1.6"/>
<circle cx="427.1" cy="273.7" r="1.6"/>
<circle cx="425.0" cy="275.2" r="1.6"/>
<circle cx="426.6" cy="277.3" r="1.6"/>
<circle cx="451.7" cy="272.6" r="1.6"/>
<circle cx="428.0" cy="259.5" r="1.6"/>
<circle cx="436.5" cy="261.0" r="1.6"/>
<circle cx="447.5" cy="261.0" r="1.6"/>
<circle cx="424.0" cy="270.5" r="1.6"/>
<circle cx="424.5" cy="273.3" r="1.6"/>
<circle cx="423.8" cy="276.2" r="1.6"/>
<circle cx="428.0" cy="271.0" r="1.6"/>
<circle cx="427.8" cy="276.0" r="1.6"/>
<circle cx="424.3" cy="278.5" r="1.6"/>
<circle cx="412.3" cy="280.2" r="1.6"/>
<circle cx="415.5" cy="281.2" r="1.6"/>
<circle cx="409.1" cy="283.0" r="1.6"/>
<circle cx="418.5" cy="279.5" r="1.6"/>
</g>
<line x1="333.1" y1="312.6" x2="498.9" y2="184.3" stroke="#c04c58" stroke-width="1.1"/>
<rect x="333.3" y="364.8" width="173.0" height="18.4" fill="none" stroke="#5a5a5a" stroke-width="1"/>
<circle cx="338.2" cy="373.7" r="1.55" fill="#15406a"/>
<text x="347.0" y="377.6" class="lg">GDFP</text>
<line x1="395.7" y1="373.8" x2="434.3" y2="373.8" stroke="#c9606b" stroke-width="1.2"/>
<text x="442.6" y="377.6" class="lg">Fitted values</text>
</svg>
</body></html>
